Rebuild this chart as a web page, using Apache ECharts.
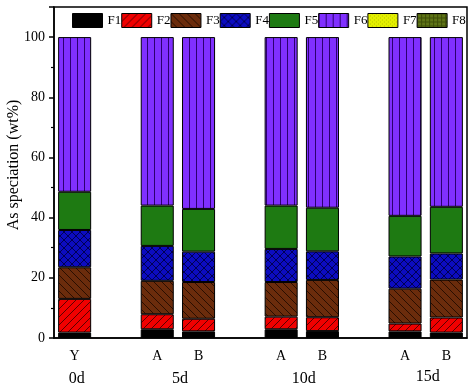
<!DOCTYPE html>
<html>
<head>
<meta charset="utf-8">
<script src="https://cdn.jsdelivr.net/npm/echarts@6/dist/echarts.min.js"></script>
<style>
html,body{margin:0;padding:0;background:#fff;}
#main{width:474px;height:391px;}
</style>
</head>
<body>
<div id="main"></div>
<script>
// ---- data ----
const categories = ['Y', '', 'A', 'B', '', 'A', 'B', '', 'A', 'B'];
const groupNames = ['0d', '5d', '10d', '15d'];
const groupMembers = [[0], [2, 3], [5, 6], [8, 9]];
const seriesNames = ['F1', 'F2', 'F3', 'F4', 'F5', 'F6', 'F7', 'F8'];
const F1 = [1.8, '-', 2.9, 2.2, '-', 2.9, 2.3, '-', 2.2, 1.8];
const F2 = [11.2, '-', 5.0, 4.2, '-', 4.2, 4.6, '-', 2.6, 5.0];
const F3 = [10.5, '-', 11.1, 12.2, '-', 11.5, 12.4, '-', 11.6, 12.6];
const F4 = [12.4, '-', 11.6, 10.1, '-', 11.0, 9.5, '-', 10.7, 8.7];
const F5 = [12.7, '-', 13.4, 14.2, '-', 14.4, 14.5, '-', 13.5, 15.5];
const F6 = [51.4, '-', 56.0, 57.1, '-', 56.0, 56.7, '-', 59.4, 56.4];
const F7 = ['-', '-', '-', '-', '-', '-', '-', '-', '-', '-'];
const F8 = ['-', '-', '-', '-', '-', '-', '-', '-', '-', '-'];
const yTicks = [0, 20, 40, 60, 80, 100];
const seriesData = [F1, F2, F3, F4, F5, F6, F7, F8];

// ---- patterns ----
function pat(w, h, bg, draw) {
  const c = document.createElement('canvas');
  c.width = w; c.height = h;
  const g = c.getContext('2d');
  g.fillStyle = bg; g.fillRect(0, 0, w, h);
  draw(g, w, h);
  return { image: c, repeat: 'repeat' };
}
function lines(g, col, segs, lw) {
  g.strokeStyle = col; g.lineWidth = lw || 1;
  g.beginPath();
  segs.forEach(s => { g.moveTo(s[0], s[1]); g.lineTo(s[2], s[3]); });
  g.stroke();
}
const fills = [
  '#000000',
  pat(8, 8, '#f00000', (g) => lines(g, '#5a0000', [[0, 8, 8, 0], [-1, 1, 1, -1], [7, 9, 9, 7]])),
  pat(8, 8, '#6b2c0c', (g) => lines(g, '#2a0e00', [[0, 0, 8, 8], [-1, 7, 1, 9], [7, -1, 9, 1]])),
  pat(8, 8, '#0c0cc0', (g) => lines(g, '#000055', [[0, 8, 8, 0], [-1, 1, 1, -1], [7, 9, 9, 7], [0, 0, 8, 8], [-1, 7, 1, 9], [7, -1, 9, 1]])),
  '#1e7a12',
  pat(7, 7, '#8030ff', (g) => lines(g, '#2c0070', [[0.5, 0, 0.5, 7]])),
  pat(4, 4, '#e4f000', (g) => { g.fillStyle = '#b8c000'; g.fillRect(0, 0, 1, 1); g.fillRect(2, 2, 1, 1); }),
  pat(4, 4, '#5f7416', (g) => { g.fillStyle = '#3e4e08'; g.fillRect(0, 0, 4, 1); g.fillRect(0, 0, 1, 4); })
];

const FONT = '"Liberation Serif", "Times New Roman", serif';

const chart = echarts.init(document.getElementById('main'), null, { renderer: 'canvas' });

const series = seriesNames.map((n, i) => ({
  name: n,
  type: 'bar',
  stack: 'total',
  barWidth: '80%',
  data: seriesData[i],
  itemStyle: { color: fills[i], borderColor: '#000', borderWidth: 1 },
  emphasis: { disabled: true },
  animation: false
}));

const option = {
  animation: false,
  textStyle: { fontFamily: FONT },
  grid: { left: 54, right: 7, top: 7, bottom: 53, show: true, borderColor: '#000', borderWidth: 1.5, backgroundColor: 'transparent' },
  legend: {
    left: 72, top: 13, padding: 0,
    itemWidth: 30, itemHeight: 14, itemGap: 0,
    data: seriesNames,
    icon: 'rect',
    selectedMode: false,
    textStyle: { fontFamily: FONT, fontSize: 13, color: '#000' },
    itemStyle: { borderColor: '#000', borderWidth: 1 }
  },
  xAxis: {
    type: 'category',
    data: categories,
    axisLine: { lineStyle: { color: '#000', width: 1.5 } },
    axisTick: { alignWithLabel: true, length: 5, lineStyle: { color: '#000', width: 1.5 } },
    axisLabel: { color: '#000', fontFamily: FONT, fontSize: 14, margin: 11, interval: 0 }
  },
  yAxis: {
    type: 'value',
    min: 0, max: 110, interval: 20,
    splitLine: { show: false },
    axisLine: { show: true, lineStyle: { color: '#000', width: 1.5 } },
    axisTick: { show: true, length: 5, lineStyle: { color: '#000', width: 1.5 } },
    minorTick: { show: true, splitNumber: 2, length: 3, lineStyle: { color: '#000', width: 1.2 } },
    axisLabel: {
      color: '#000', fontFamily: FONT, fontSize: 14, margin: 9,
      formatter: v => (yTicks.indexOf(v) >= 0 ? String(v) : '')
    }
  },
  series: series
};
chart.setOption(option);

// group labels under the categories and rotated y-axis title
const graphics = groupNames.map((name, gi) => {
  const xs = groupMembers[gi].map(ci => chart.convertToPixel({ xAxisIndex: 0 }, ci));
  const x = xs.reduce((a, b) => a + b, 0) / xs.length;
  return {
    type: 'text', x: x + 2, y: gi === 3 ? 377 : 379,
    style: { text: name, font: '16px ' + FONT, fill: '#000', textAlign: 'center', textVerticalAlign: 'middle' },
    silent: true
  };
});
graphics.push({
  type: 'text', x: 14, y: 165, rotation: Math.PI / 2,
  style: { text: 'As speciation (wt%)', font: '16px ' + FONT, fill: '#000', textAlign: 'center', textVerticalAlign: 'middle' },
  silent: true
});
chart.setOption({ graphic: graphics });
</script>
</body>
</html>
